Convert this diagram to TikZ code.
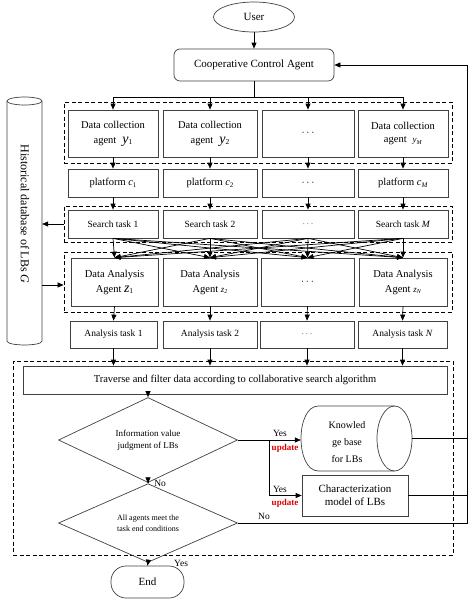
\documentclass[tikz,border=0pt]{standalone}
\usepackage{fontspec}
\setmainfont{Liberation Serif}
\usetikzlibrary{arrows.meta,shapes.geometric}
\newcommand{\bigvar}[2]{{\fontsize{14}{14}\selectfont\textit{#1}}\raisebox{-1.5pt}{\fontsize{7.5}{8}\selectfont #2}}
\newcommand{\smallvar}[2]{{\fontsize{9}{9}\selectfont\textit{#1}}\raisebox{-1.5pt}{\fontsize{6}{6}\selectfont\textit{#2}}}
\begin{document}
\begin{tikzpicture}[x=1pt,y=-1pt,
  box/.style={draw=black!75, line width=0.7pt, inner sep=1pt, align=center, font=\fontsize{10.5}{15}\selectfont},
  sbox/.style={box, font=\fontsize{9.5}{12}\selectfont},
  grp/.style={draw=black, line width=0.9pt, dash pattern=on 4pt off 2.5pt, inner sep=0},
  arr/.style={-{Triangle[length=6pt,width=5pt]}, line width=0.7pt},
  ln/.style={line width=0.7pt},
  lbl/.style={inner sep=0, font=\fontsize{9.5}{11}\selectfont},
  upd/.style={inner sep=0, text=red!85!black, font=\fontsize{9}{11}\selectfont\bfseries},
]
\useasboundingbox (0,0) rectangle (474,603);

% dashed groups
\node[grp, minimum width=388, minimum height=61] (g1) at (258,132.5) {};
\node[grp, minimum width=388, minimum height=36] (g2) at (258,224) {};
\node[grp, minimum width=388, minimum height=60] (g3) at (258,282) {};
\node[grp, minimum width=440, minimum height=194] (g4) at (233,458) {};

% top
\node[draw=black!75, line width=0.7pt, ellipse, minimum width=81, minimum height=30, inner sep=0, font=\fontsize{11}{13}\selectfont] (user) at (254,17) {User};
\node[box, rounded corners=6, minimum width=160, minimum height=32, font=\fontsize{11}{13}\selectfont] (cca) at (254,65) {Cooperative Control Agent};

% data collection
\node[box, minimum width=90, minimum height=47] (dc1) at (113,133.5) {Data collection\\agent\hspace{6pt}\bigvar{y}{1}};
\node[box, minimum width=94, minimum height=47] (dc2) at (210,133.5) {Data collection\\agent\hspace{6pt}\bigvar{y}{2}};
\node[box, minimum width=92, minimum height=47] (dc3) at (308,133.5) {$\cdots$};
\node[box, minimum width=90, minimum height=47, font=\fontsize{10.5}{13}\selectfont] (dc4) at (403,133.5) {Data collection\\agent\hspace{6pt}\smallvar{y}{M}};

% platforms
\node[box, minimum width=90, minimum height=28] (p1) at (113,183) {platform \textit{c}\raisebox{-1.5pt}{\fontsize{7}{7}\selectfont 1}};
\node[box, minimum width=94, minimum height=28] (p2) at (210,183) {platform \textit{c}\raisebox{-1.5pt}{\fontsize{7}{7}\selectfont 2}};
\node[box, minimum width=92, minimum height=28] (p3) at (308,183) {$\cdots$};
\node[box, minimum width=90, minimum height=28] (p4) at (403,183) {platform \textit{c}\raisebox{-1.5pt}{\fontsize{7}{7}\selectfont\textit{M}}};

% search tasks
\node[sbox, minimum width=90, minimum height=28] (s1) at (113,224) {Search task 1};
\node[sbox, minimum width=94, minimum height=28] (s2) at (210,224) {Search task 2};
\node[sbox, minimum width=92, minimum height=28] (s3) at (308,224) {$\cdots$};
\node[sbox, minimum width=90, minimum height=28] (s4) at (403,224) {Search task \textit{M}};

% data analysis agents
\node[box, minimum width=87, minimum height=48] (a1) at (114.5,282) {Data Analysis\\Agent \bigvar{z}{1}};
\node[box, minimum width=94, minimum height=48] (a2) at (210,282) {Data Analysis\\Agent \smallvar{z}{2}};
\node[box, minimum width=93, minimum height=48] (a3) at (307.5,282) {$\cdots$};
\node[box, minimum width=88, minimum height=48] (a4) at (403,282) {Data Analysis\\Agent \smallvar{z}{N}};

% analysis tasks
\node[sbox, minimum width=87, minimum height=27] (t1) at (113.5,334.5) {Analysis task 1};
\node[sbox, minimum width=94, minimum height=27] (t2) at (210,334.5) {Analysis task 2};
\node[sbox, minimum width=94, minimum height=27] (t3) at (307,334.5) {$\cdots$};
\node[sbox, minimum width=89, minimum height=27] (t4) at (402.5,334.5) {Analysis task \textit{N}};

% historical database cylinder
\node[minimum width=35, minimum height=244, inner sep=0] (hist) at (24.5,223) {};
\draw[ln, draw=black!75] (7,101) -- (7,341) .. controls (7,346.3) and (42,346.3) .. (42,341) -- (42,101);
\draw[ln, draw=black!75] (24.5,101) ellipse [x radius=17.5, y radius=4];
\node[rotate=-90, inner sep=0, font=\fontsize{12}{14}\selectfont] (histtext) at (25,214) {Historical database of LBs \textit{G}};

% bottom part
\node[box, minimum width=424, minimum height=28] (trav) at (235,380) {Traverse and filter data according to collaborative search algorithm};
\node[draw=black!75, line width=0.7pt, diamond, minimum width=179, minimum height=70, inner sep=0, align=center, font=\fontsize{9}{12}\selectfont] (d1) at (148,440) {Information value\\judgment of LBs};
\node[draw=black!75, line width=0.7pt, diamond, minimum width=179, minimum height=58, inner sep=0, align=center, font=\fontsize{8}{11}\selectfont] (d2) at (148,523) {All agents meet the\\task end conditions};
\node[draw=black!75, line width=0.7pt, rounded corners=15, minimum width=73, minimum height=32, inner sep=0, font=\fontsize{11}{13}\selectfont] (endn) at (147.5,582) {End};

% knowledge base cylinder
\node[minimum width=111, minimum height=65, inner sep=0] (kb) at (356.5,438.5) {};
\draw[ln, draw=black!75] (394.5,406) -- (318.5,406) .. controls (295.2,406) and (295.2,471) .. (318.5,471) -- (394.5,471);
\draw[ln, draw=black!75] (394.5,438.5) ellipse [x radius=17.5, y radius=32.5];
\node[align=center, inner sep=0, font=\fontsize{10}{17}\selectfont] (kbtext) at (347,442) {Knowled\\ge base\\for LBs};

\node[box, minimum width=106, minimum height=41, font=\fontsize{11}{13}\selectfont] (char) at (355,495.5) {Characterization\\model of LBs};

% connectors top
\coordinate (busL) at (113,97);
\coordinate (busR) at (403,97);
\draw[arr] (user) -- (cca);
\draw[ln] (cca.south) -- (cca.south |- busL);
\draw[ln] (busL) -- (busR);
\foreach \n in {dc1,dc2,dc3,dc4} \draw[arr] (\n.north |- busL) -- (\n.north);
\draw[arr] (dc1) -- (p1); \draw[arr] (dc2) -- (p2); \draw[arr] (dc3) -- (p3); \draw[arr] (dc4) -- (p4);
\draw[arr] (p1) -- (s1); \draw[arr] (p2) -- (s2); \draw[arr] (p3) -- (s3); \draw[arr] (p4) -- (s4);
\foreach \s in {s1,s2,s3,s4} \foreach \a in {a1,a2,a3,a4} \draw[arr] (\s.south) -- (\a.north);
\draw[arr] (a1.south) -- (t1.north); \draw[arr] (a2.south) -- (t2.north); \draw[arr] (a3.south) -- (t3.north); \draw[arr] (a4.south) -- (t4.north);
\foreach \t in {t1,t2,t3,t4} \draw[arr] (\t.south) -- (\t.south |- trav.north);

% historical links
\draw[arr] (g2.west) -- (g2.west -| hist.east);
\coordinate (hin) at (42,285);
\draw[arr] (hin) -- (hin -| g3.west);

% bottom connectors
\draw[arr] (trav.south -| d1.north) -- (d1.north);
\draw[arr] (d1.south) -- (d2.north) node[lbl, pos=0.45, right=6pt] {No};
\draw[arr] (d2.south) -- (endn.north) node[lbl, pos=0.3, right=26pt] {Yes};
\coordinate (split) at (269,440);
\draw[ln] (d1.east) -- (split);
\draw[arr] (split) -- (split -| kb.west);
\draw[arr] (split) -- (split |- char.west) -- (char.west);
\node[lbl] (y1) at (280,433) {Yes};
\node[upd] (u1) at (285,448.5) {update};
\node[lbl] (y2) at (280,489.5) {Yes};
\node[upd] (u2) at (285,503.5) {update};

\coordinate (rx) at (467,65);
\draw[ln] (d2.east) -- (d2.east -| rx) -- (rx);
\draw[arr] (rx) -- (cca.east);
\draw[ln] (412,438.5) -- (412,438.5 -| rx);
\draw[ln] (char.east) -- (char.east -| rx);
\node[lbl] (no2) at (264,516.5) {No};
\end{tikzpicture}
\end{document}
